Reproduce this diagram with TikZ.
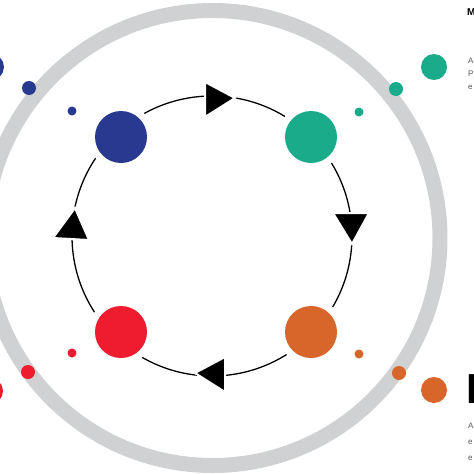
\documentclass[tikz,border=0pt]{standalone}
\usepackage{fontspec}
\setmainfont{Liberation Sans}
\definecolor{cblue}{HTML}{2A3990}
\definecolor{cteal}{HTML}{1AAB8A}
\definecolor{cred}{HTML}{ED1C2E}
\definecolor{corange}{HTML}{D8652A}
\definecolor{ringgray}{HTML}{D0D1D3}
\definecolor{textgray}{HTML}{555555}
\begin{document}
\begin{tikzpicture}[x=1pt,y=-1pt,
  bigdot/.style={circle,inner sep=0pt,minimum size=52pt},
  middot/.style={circle,inner sep=0pt,minimum size=14pt},
  smalldot/.style={circle,inner sep=0pt,minimum size=9pt},
  outerdot/.style={circle,inner sep=0pt,minimum size=26pt},
  arrowtri/.style={fill=black,draw=white,line width=2pt},
  cyc/.style={line width=1.3pt,black},
  halo/.style={fill=white}]
\useasboundingbox (0,0) rectangle (474,474);
\clip (0,0) rectangle (474,474);
% gray ring
\draw[ringgray,line width=15pt] (212.5,238) circle (227.5);
% cycle circle
\coordinate (cc) at (212,236);
\draw[cyc] (cc) circle (140);
% dot centres
\coordinate (pb) at (121,137);
\coordinate (pt) at (311,137);
\coordinate (po) at (311,332);
\coordinate (pr) at (121,332);
\foreach \p in {pb,pt,po,pr}{\fill[halo] (\p) circle (33);}
% big dots
\node[bigdot,fill=cblue] (B) at (pb) {};
\node[bigdot,fill=cteal] (T) at (pt) {};
\node[bigdot,fill=corange] (O) at (po) {};
\node[bigdot,fill=cred] (R) at (pr) {};
% arrowheads
\filldraw[arrowtri] (205,82) -- (235,98) -- (205,117) -- cycle;
\filldraw[arrowtri] (333,213) -- (369,213) -- (352,244) -- cycle;
\filldraw[arrowtri] (225,357) -- (225,392) -- (195,373) -- cycle;
\filldraw[arrowtri] (53,238) -- (75,208) -- (89,240) -- cycle;
% small dots
\node[smalldot,fill=cblue] (b1) at (72,111) {};
\node[smalldot,fill=cteal] (t1) at (359,112) {};
\node[smalldot,fill=cred] (r1) at (72,353) {};
\node[smalldot,fill=corange] (o1) at (359,354) {};
% medium dots
\node[middot,fill=cblue] (b2) at (29,88) {};
\node[middot,fill=cteal] (t2) at (396,89) {};
\node[middot,fill=cred] (r2) at (28,372) {};
\node[middot,fill=corange] (o2) at (399,373) {};
% outer dots
\node[outerdot,fill=cblue] (b3) at (-9,67) {};
\node[outerdot,fill=cteal] (t3) at (434,67) {};
\node[outerdot,fill=cred] (r3) at (-10,391) {};
\node[outerdot,fill=corange] (o3) at (434,390) {};
% cut-off texts at right edge
\node[anchor=base west,inner sep=0pt,font=\bfseries\fontsize{10}{12}\selectfont] (h1) at (467,15) {M};
\node[anchor=north west,inner sep=0pt,align=left,text=textgray,font=\fontsize{8}{13}\selectfont] (x1) at (468,58) {A\\P\\e};
\node[anchor=base west,inner sep=0pt,font=\bfseries\fontsize{42}{44}\selectfont] (h2) at (466,403) {E};
\node[anchor=north west,inner sep=0pt,align=left,text=textgray,font=\fontsize{8}{16}\selectfont] (x2) at (468,423) {A\\e\\e};
\end{tikzpicture}
\end{document}
